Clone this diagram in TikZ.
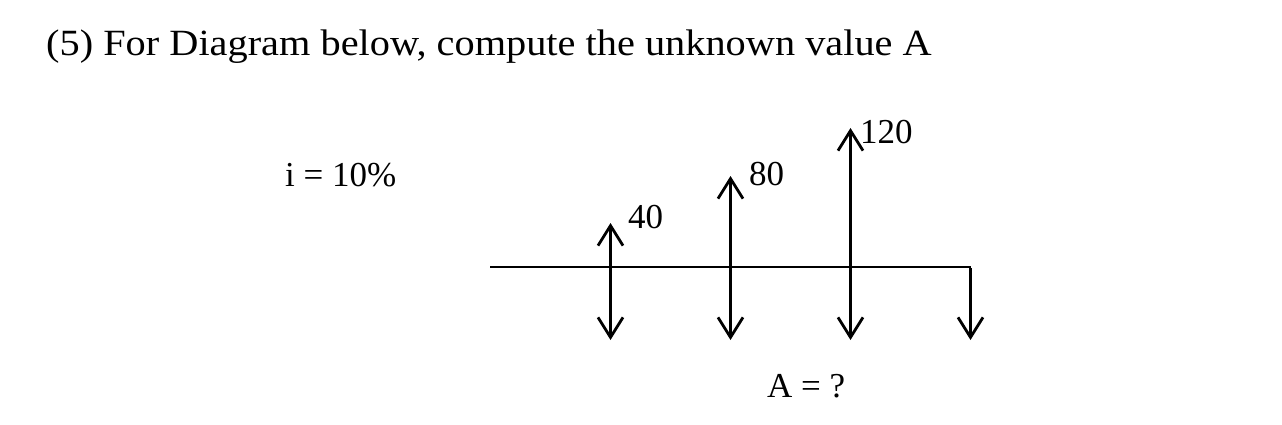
\documentclass[tikz,border=0pt]{standalone}
\usepackage{fontspec}
\setmainfont{Liberation Serif}
\usetikzlibrary{arrows.meta}
\begin{document}
\begin{tikzpicture}[x=1pt,y=-1pt,
  txt/.style={inner sep=0pt,anchor=base west,font=\fontsize{35}{40}\selectfont},
  flow/.style={line width=2.8pt,-{Straight Barb[length=20pt,width=25pt,line width=2.8pt]}},
  axis/.style={line width=2.8pt}]
\useasboundingbox (0,0) rectangle (1282,425);
\fill[white] (0,0) rectangle (1282,425);
\node[txt,font=\fontsize{37}{42}\selectfont] (title) at (46,56) {\scalebox{1.09}[1]{(5) For Diagram below, compute the unknown value A}};
\node[txt] (rate) at (285,186) {i = 10\%};
\node[txt] (ans) at (767,397) {A = ?};
% axis points
\coordinate (t0) at (490,267);
\coordinate (t1) at (610.5,267);
\coordinate (t2) at (730.5,267);
\coordinate (t3) at (850.5,267);
\coordinate (t4) at (970.5,267);
% tips
\coordinate (u1) at (610.5,223);
\coordinate (u2) at (730.5,176);
\coordinate (u3) at (850.5,128);
\coordinate (d1) at (610.5,340);
\coordinate (d2) at (730.5,340);
\coordinate (d3) at (850.5,340);
\coordinate (d4) at (970.5,340);
\draw[axis] (t0) -- (t4);
\draw[flow] (t1) -- (u1);
\draw[flow] (t2) -- (u2);
\draw[flow] (t3) -- (u3);
\draw[flow] (t1) -- (d1);
\draw[flow] (t2) -- (d2);
\draw[flow] (t3) -- (d3);
\draw[flow] ([yshift=-1.4pt]t4) -- (d4);
\node[txt] (l40) at (628,228) {40};
\node[txt] (l80) at (749,185) {80};
\node[txt] (l120) at (860,143) {120};
\end{tikzpicture}
\end{document}
